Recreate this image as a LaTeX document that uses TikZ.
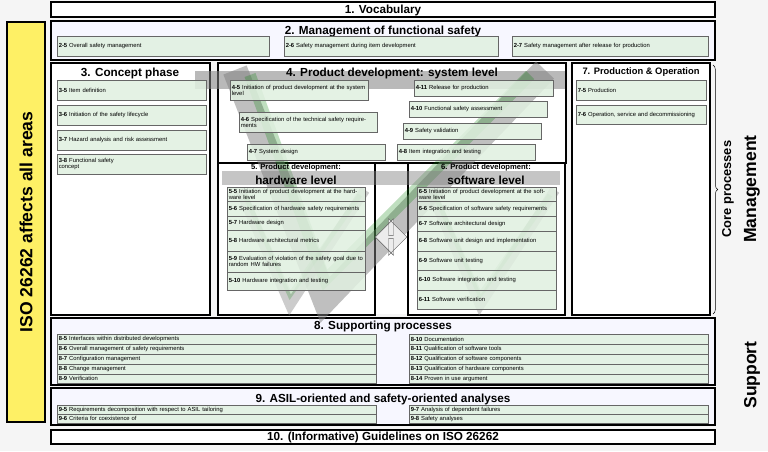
\documentclass[tikz,border=0pt]{standalone}
\usepackage{fontspec}
\setmainfont{Liberation Sans}
\usetikzlibrary{positioning, shapes.arrows, decorations.pathreplacing}

% px -> cm
\newcommand{\pbox}[6]{%
  \pgfmathsetlengthmacro\bw{(#4-#2)*0.03cm}%
  \pgfmathsetlengthmacro\bh{(#5-#3)*0.03cm}%
  \node[#6, minimum width=\bw, minimum height=\bh] (#1) at ({(#2+#4)/2},{(#3+#5)/2}) {};}
\newcommand{\pitem}[6]{%
  \pgfmathsetlengthmacro\bw{(#4-#2)*0.03cm}%
  \pgfmathsetlengthmacro\tw{(#4-#2)*0.03cm-3pt}%
  \pgfmathsetlengthmacro\bh{(#5-#3)*0.03cm}%
  \node[item, text width=\tw, minimum width=\bw, minimum height=\bh] (#1) at ({(#2+#4)/2},{(#3+#5)/2}) {#6};}

\begin{document}
\begin{tikzpicture}[
		x=0.03cm, y=-0.03cm,
		sec/.style={draw, line width=1.3pt, rectangle, inner sep=0pt},
		item/.style={draw=black!60, fill=green!50!black!12, fill opacity=0.85, text opacity=1, rectangle, inner sep=1pt, align=left, font=\fontsize{5}{5.2}\selectfont},
		ttl/.style={font=\bfseries\fontsize{10}{11}\selectfont, inner sep=0pt},
		side/.style={rotate=90, font=\bfseries\fontsize{15}{16}\selectfont, inner sep=0pt},
	]
	\useasboundingbox (0,0) rectangle (768,451);
	\fill[gray!8] (0,0) rectangle (768,451);

	% sections
	\pbox{s1}{51}{2}{715}{17}{sec, fill=white}
	\pbox{s2}{51}{21}{715}{60}{sec, fill=blue!3}
	\pbox{s3}{51}{63}{210}{315}{sec, fill=white}
	\pbox{s4}{218}{63}{566}{163}{sec, fill=white}
	\pbox{s5}{218}{163}{375}{315}{sec, fill=white}
	\pbox{s6}{408}{163}{565}{315}{sec, fill=white}
	\pbox{s7}{572}{63}{710}{315}{sec, fill=white}
	\pbox{s8}{51}{318}{715}{385}{sec, fill=blue!3}
	\pbox{s9}{51}{388}{715}{425}{sec, fill=blue!3}
	\pbox{s10}{51}{430}{715}{444}{sec, fill=white}
	\fill[white] (376,165) rectangle (407,314);

	% V watermark
	\draw[gray, opacity=0.55, line width=0.55cm] (195,80) -- (565,80);
	\draw[gray, opacity=0.5, line width=0.75cm] (235,70) -- (325,300) -- (545,70);
	\draw[green!50!black, opacity=0.25, line width=0.35cm] (250,75) -- (325,280) -- (530,75);
	\draw[gray, opacity=0.45, line width=0.4cm] (222,178) -- (560,178);
	\draw[gray, opacity=0.4, line width=0.3cm] (240,190) -- (290,305) -- (365,190);
	\draw[gray, opacity=0.4, line width=0.3cm] (430,190) -- (480,305) -- (555,190);
	\draw[green!50!black, opacity=0.2, line width=0.15cm] (245,195) -- (290,295) -- (360,195);
	\draw[green!50!black, opacity=0.2, line width=0.15cm] (435,195) -- (480,295) -- (550,195);

	% titles
	\node[ttl] (t1) at (383,10) {1. Vocabulary};
	\node[ttl] (t2) at (383,31) {2. Management of functional safety};
	\node[ttl] (t3) at (130,73) {3. Concept phase};
	\node[ttl] (t4) at (392,73) {4. Product development: system level};
	\node[ttl, font=\bfseries\fontsize{8}{9}\selectfont] (t7) at (641,72) {7. Production \& Operation};
	\node[ttl, font=\bfseries\fontsize{6.5}{7}\selectfont] (t5) at (296,168) {5. Product development:};
	\node[ttl] (t5b) at (296,180) {hardware level};
	\node[ttl, font=\bfseries\fontsize{6.5}{7}\selectfont] (t6) at (486,168) {6. Product development:};
	\node[ttl] (t6b) at (486,180) {software level};
	\node[ttl] (t8) at (383,326) {8. Supporting processes};
	\node[ttl] (t9) at (383,399) {9. ASIL-oriented and safety-oriented analyses};
	\node[ttl] (t10) at (383,437) {10. (Informative) Guidelines on ISO 26262};

	% part 2
	\pitem{i25}{57}{36}{269}{56}{\textbf{2-5} Overall safety management}
	\pitem{i26}{284}{36}{498}{56}{\textbf{2-6} Safety management during item development}
	\pitem{i27}{512}{36}{708}{56}{\textbf{2-7} Safety management after release for production}
	% part 3
	\pitem{i35}{57}{80}{206}{100}{\textbf{3-5} Item definition}
	\pitem{i36}{57}{105}{206}{125}{\textbf{3-6} Initiation of the safety lifecycle}
	\pitem{i37}{57}{130}{206}{150}{\textbf{3-7} Hazard analysis and risk assessment}
	\pitem{i38}{57}{154}{206}{174}{\textbf{3-8} Functional safety\\concept}
	% part 4
	\pitem{i45}{230}{80}{368}{100}{\textbf{4-5} Initiation of product development at the system level}
	\pitem{i46}{239}{112}{377}{132}{\textbf{4-6} Specification of the technical safety requirements}
	\pitem{i47}{247}{144}{385}{160}{\textbf{4-7} System design}
	\pitem{i48}{397}{144}{535}{160}{\textbf{4-8} Item integration and testing}
	\pitem{i49}{403}{123}{541}{139}{\textbf{4-9} Safety validation}
	\pitem{i410}{409}{101}{547}{117}{\textbf{4-10} Functional safety assessment}
	\pitem{i411}{414}{80}{553}{96}{\textbf{4-11} Release for production}
	% part 5
	\pitem{i55}{227}{187}{365}{201}{\textbf{5-5} Initiation of product development at the hardware level}
	\pitem{i56}{227}{201}{365}{216}{\textbf{5-6} Specification of hardware safety requirements}
	\pitem{i57}{227}{216}{365}{230}{\textbf{5-7} Hardware design}
	\pitem{i58}{227}{230}{365}{251}{\textbf{5-8} Hardware architectural metrics}
	\pitem{i59}{227}{251}{365}{272}{\textbf{5-9} Evaluation of violation of the safety goal due to random HW failures}
	\pitem{i510}{227}{272}{365}{290}{\textbf{5-10} Hardware integration and testing}
	% part 6
	\pitem{i65}{417}{187}{556}{201}{\textbf{6-5} Initiation of product development at the software level}
	\pitem{i66}{417}{201}{556}{216}{\textbf{6-6} Specification of software safety requirements}
	\pitem{i67}{417}{216}{556}{231}{\textbf{6-7} Software architectural design}
	\pitem{i68}{417}{231}{556}{251}{\textbf{6-8} Software unit design and implementation}
	\pitem{i69}{417}{251}{556}{270}{\textbf{6-9} Software unit testing}
	\pitem{i610}{417}{270}{556}{290}{\textbf{6-10} Software integration and testing}
	\pitem{i611}{417}{290}{556}{309}{\textbf{6-11} Software verification}
	% part 7
	\pitem{i75}{576}{80}{706}{100}{\textbf{7-5} Production}
	\pitem{i76}{576}{105}{706}{124}{\textbf{7-6} Operation, service and decommissioning}
	% part 8
	\pitem{i85}{57}{334}{376}{344}{\textbf{8-5} Interfaces within distributed developments}
	\pitem{i86}{57}{344}{376}{354}{\textbf{8-6} Overall management of safety requirements}
	\pitem{i87}{57}{354}{376}{364}{\textbf{8-7} Configuration management}
	\pitem{i88}{57}{364}{376}{374}{\textbf{8-8} Change management}
	\pitem{i89}{57}{374}{376}{383}{\textbf{8-9} Verification}
	\pitem{i810}{409}{334}{708}{344}{\textbf{8-10} Documentation}
	\pitem{i811}{409}{344}{708}{354}{\textbf{8-11} Qualification of software tools}
	\pitem{i812}{409}{354}{708}{364}{\textbf{8-12} Qualification of software components}
	\pitem{i813}{409}{364}{708}{374}{\textbf{8-13} Qualification of hardware components}
	\pitem{i814}{409}{374}{708}{383}{\textbf{8-14} Proven in use argument}
	% part 9
	\pitem{i95}{57}{405}{376}{414}{\textbf{9-5} Requirements decomposition with respect to ASIL tailoring}
	\pitem{i96}{57}{414}{376}{423}{\textbf{9-6} Criteria for coexistence of}
	\pitem{i97}{409}{405}{708}{414}{\textbf{9-7} Analysis of dependent failures}
	\pitem{i98}{409}{414}{708}{423}{\textbf{9-8} Safety analyses}

	% hw <-> sw
	\node[double arrow, draw=gray!70!black, fill=gray!15, minimum width=1.1cm, double arrow head extend=2pt, minimum height=0.95cm, inner sep=0pt] (hwsw) at (391,237) {};

	% side labels
	\pbox{iso}{7}{22}{45}{422}{draw, line width=1pt, fill=yellow!90!orange!60}
	\node[side] (isot) at (iso) {ISO 26262 affects all areas};
	\coordinate (bt) at (713,65);
	\coordinate (bb) at (713,314);
	\draw[decorate, decoration={brace, amplitude=4pt}] (bt) -- (bb);
	\node[side, font=\bfseries\fontsize{11}{12}\selectfont] (core) at (728,189) {Core processes};
	\node[side] (mgmt) at (752,189) {Management};
	\node[side] (supp) at (752,375) {Support};
\end{tikzpicture}
\end{document}
